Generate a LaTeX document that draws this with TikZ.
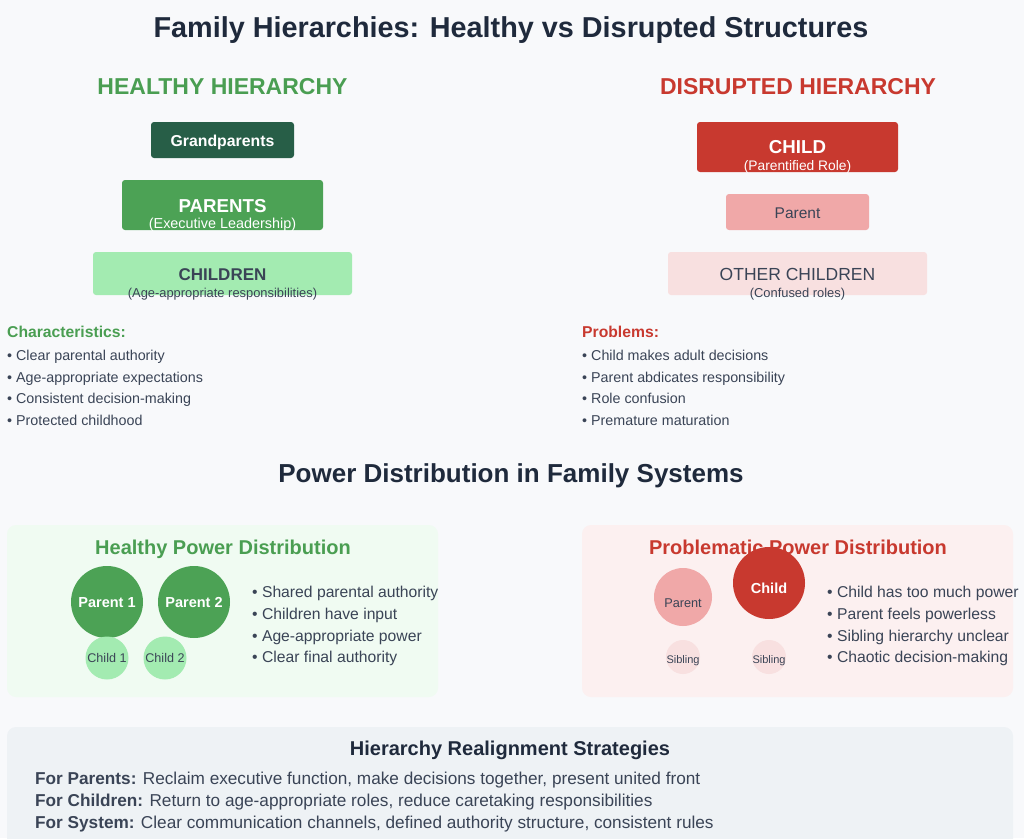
\documentclass[tikz,border=0pt]{standalone}
\usepackage{fontspec}
\setmainfont{Liberation Sans}
\definecolor{bgc}{HTML}{F8F9FB}
\definecolor{titc}{HTML}{1F2A3C}
\definecolor{txt}{HTML}{3A4456}
\definecolor{gdark}{HTML}{275E47}
\definecolor{gmid}{HTML}{4CA255}
\definecolor{glight}{HTML}{A3EBB1}
\definecolor{gtext}{HTML}{4A9E52}
\definecolor{rdark}{HTML}{C8392F}
\definecolor{rmid}{HTML}{F0A8A8}
\definecolor{rlight}{HTML}{F8E0E0}
\definecolor{gpanel}{HTML}{F0FBF2}
\definecolor{rpanel}{HTML}{FCF0F0}
\definecolor{bpanel}{HTML}{EEF2F5}
\newcommand{\fs}[1]{\fontsize{#1}{#1}\selectfont}
\begin{document}
\begin{tikzpicture}[x=1pt,y=-1pt,
  lbl/.style={anchor=base,inner sep=0},
  lft/.style={anchor=base west,inner sep=0},
  hbox/.style={rounded corners=3pt,draw=none},
  pnl/.style={rounded corners=9pt,draw=none},
  circ/.style={circle,draw=none,inner sep=0}]
\useasboundingbox (0,0) rectangle (1024,838);
\fill[bgc] (0,0) rectangle (1024,838);

\node[lbl,text=titc,font=\fs{28.8}\bfseries] (title) at (511,37) {Family Hierarchies: Healthy vs Disrupted Structures};

% Healthy hierarchy
\node[lbl,text=gtext,font=\fs{23}\bfseries] (hh) at (222.5,94) {HEALTHY HIERARCHY};
\fill[hbox,gdark] (151,122) rectangle (294,158);
\node[lbl,text=white,font=\fs{15.8}\bfseries] (gp) at (222.5,146.5) {Grandparents};
\fill[hbox,gmid] (122,180) rectangle (323,230);
\node[lbl,text=white,font=\fs{18.7}\bfseries] (par) at (222.5,212) {PARENTS};
\node[lbl,text=white,font=\fs{14.4}] (parsub) at (222.5,228) {(Executive Leadership)};
\fill[hbox,glight] (93,252) rectangle (352,295);
\node[lbl,text=txt,font=\fs{17}\bfseries] (ch) at (222.5,280.5) {CHILDREN};
\node[lbl,text=txt,font=\fs{12.9}] (chsub) at (222.5,297.5) {(Age-appropriate responsibilities)};

\node[lft,text=gtext,font=\fs{15.7}\bfseries] (charh) at (7,337.5) {Characteristics:};
\node[lft,text=txt,font=\fs{14.3}] (c1) at (7,360) {• Clear parental authority};
\node[lft,text=txt,font=\fs{14.3}] (c2) at (7,382) {• Age-appropriate expectations};
\node[lft,text=txt,font=\fs{14.3}] (c3) at (7,403) {• Consistent decision-making};
\node[lft,text=txt,font=\fs{14.3}] (c4) at (7,425) {• Protected childhood};

% Disrupted hierarchy
\node[lbl,text=rdark,font=\fs{23}\bfseries] (dh) at (798,94) {DISRUPTED HIERARCHY};
\fill[hbox,rdark] (697,122) rectangle (898,172);
\node[lbl,text=white,font=\fs{18.7}\bfseries] (chd) at (797.5,153.5) {CHILD};
\node[lbl,text=white,font=\fs{13.8}] (chdsub) at (797.5,170.5) {(Parentified Role)};
\fill[hbox,rmid] (726,194) rectangle (869,230);
\node[lbl,text=txt,font=\fs{15.5}] (pr) at (797.5,218.5) {Parent};
\fill[hbox,rlight] (668,252) rectangle (927,295);
\node[lbl,text=txt,font=\fs{17.5}] (oc) at (797.5,280.5) {OTHER CHILDREN};
\node[lbl,text=txt,font=\fs{12.9}] (ocsub) at (797.5,297.5) {(Confused roles)};

\node[lft,text=rdark,font=\fs{15.7}\bfseries] (probh) at (582,337.5) {Problems:};
\node[lft,text=txt,font=\fs{14.3}] (p1) at (582,360) {• Child makes adult decisions};
\node[lft,text=txt,font=\fs{14.3}] (p2) at (582,382) {• Parent abdicates responsibility};
\node[lft,text=txt,font=\fs{14.3}] (p3) at (582,403) {• Role confusion};
\node[lft,text=txt,font=\fs{14.3}] (p4) at (582,425) {• Premature maturation};

% Power distribution
\node[lbl,text=titc,font=\fs{26}\bfseries] (pd) at (511,482) {Power Distribution in Family Systems};

\fill[pnl,gpanel] (7,525) rectangle (438,697);
\node[lbl,text=gtext,font=\fs{20}\bfseries] (hpd) at (223,554) {Healthy Power Distribution};
\node[circ,fill=gmid,minimum size=72pt] (cp1) at (107,602) {};
\node[circ,fill=gmid,minimum size=72pt] (cp2) at (194,602) {};
\node[lbl,text=white,font=\fs{14.5}\bfseries] (tp1) at (107,607) {Parent 1};
\node[lbl,text=white,font=\fs{14.5}\bfseries] (tp2) at (194,607) {Parent 2};
\node[circ,fill=glight,minimum size=43pt] (cc1) at (107,658) {};
\node[circ,fill=glight,minimum size=43pt] (cc2) at (165,658) {};
\node[lbl,text=txt,font=\fs{12.6}] (tc1) at (107,662.5) {Child 1};
\node[lbl,text=txt,font=\fs{12.6}] (tc2) at (165,662.5) {Child 2};
\node[lft,text=txt,font=\fs{15.7}] (h1) at (252,597.5) {• Shared parental authority};
\node[lft,text=txt,font=\fs{15.7}] (h2) at (252,619) {• Children have input};
\node[lft,text=txt,font=\fs{15.7}] (h3) at (252,641) {• Age-appropriate power};
\node[lft,text=txt,font=\fs{15.7}] (h4) at (252,662.5) {• Clear final authority};

\fill[pnl,rpanel] (582,525) rectangle (1013,697);
\node[lbl,text=rdark,font=\fs{20}\bfseries] (ppd) at (798,554) {Problematic Power Distribution};
\node[circ,fill=rmid,minimum size=58pt] (cpp) at (683,597) {};
\node[lbl,text=txt,font=\fs{12.7}] (tpp) at (683,607.5) {Parent};
\node[circ,fill=rdark,minimum size=72pt] (cch) at (769,583) {};
\node[lbl,text=white,font=\fs{14.5}\bfseries] (tch) at (769,593) {Child};
\node[circ,fill=rlight,minimum size=34pt] (cs1) at (683,657) {};
\node[circ,fill=rlight,minimum size=34pt] (cs2) at (769,657) {};
\node[lbl,text=txt,font=\fs{11}] (ts1) at (683,663) {Sibling};
\node[lbl,text=txt,font=\fs{11}] (ts2) at (769,663) {Sibling};
\node[lft,text=txt,font=\fs{15.7}] (q1) at (827,597.5) {• Child has too much power};
\node[lft,text=txt,font=\fs{15.7}] (q2) at (827,619) {• Parent feels powerless};
\node[lft,text=txt,font=\fs{15.7}] (q3) at (827,641) {• Sibling hierarchy unclear};
\node[lft,text=txt,font=\fs{15.7}] (q4) at (827,662.5) {• Chaotic decision-making};

% Strategies
\fill[pnl,bpanel] (7,727) rectangle (1013,850);
\node[lbl,text=titc,font=\fs{20}\bfseries] (hrs) at (510,755) {Hierarchy Realignment Strategies};
\node[lft,text=txt,font=\fs{17.2}] (s1) at (35,784) {\textbf{For Parents:} Reclaim executive function, make decisions together, present united front};
\node[lft,text=txt,font=\fs{17.2}] (s2) at (35,806) {\textbf{For Children:} Return to age-appropriate roles, reduce caretaking responsibilities};
\node[lft,text=txt,font=\fs{17.2}] (s3) at (35,828) {\textbf{For System:} Clear communication channels, defined authority structure, consistent rules};
\end{tikzpicture}
\end{document}
